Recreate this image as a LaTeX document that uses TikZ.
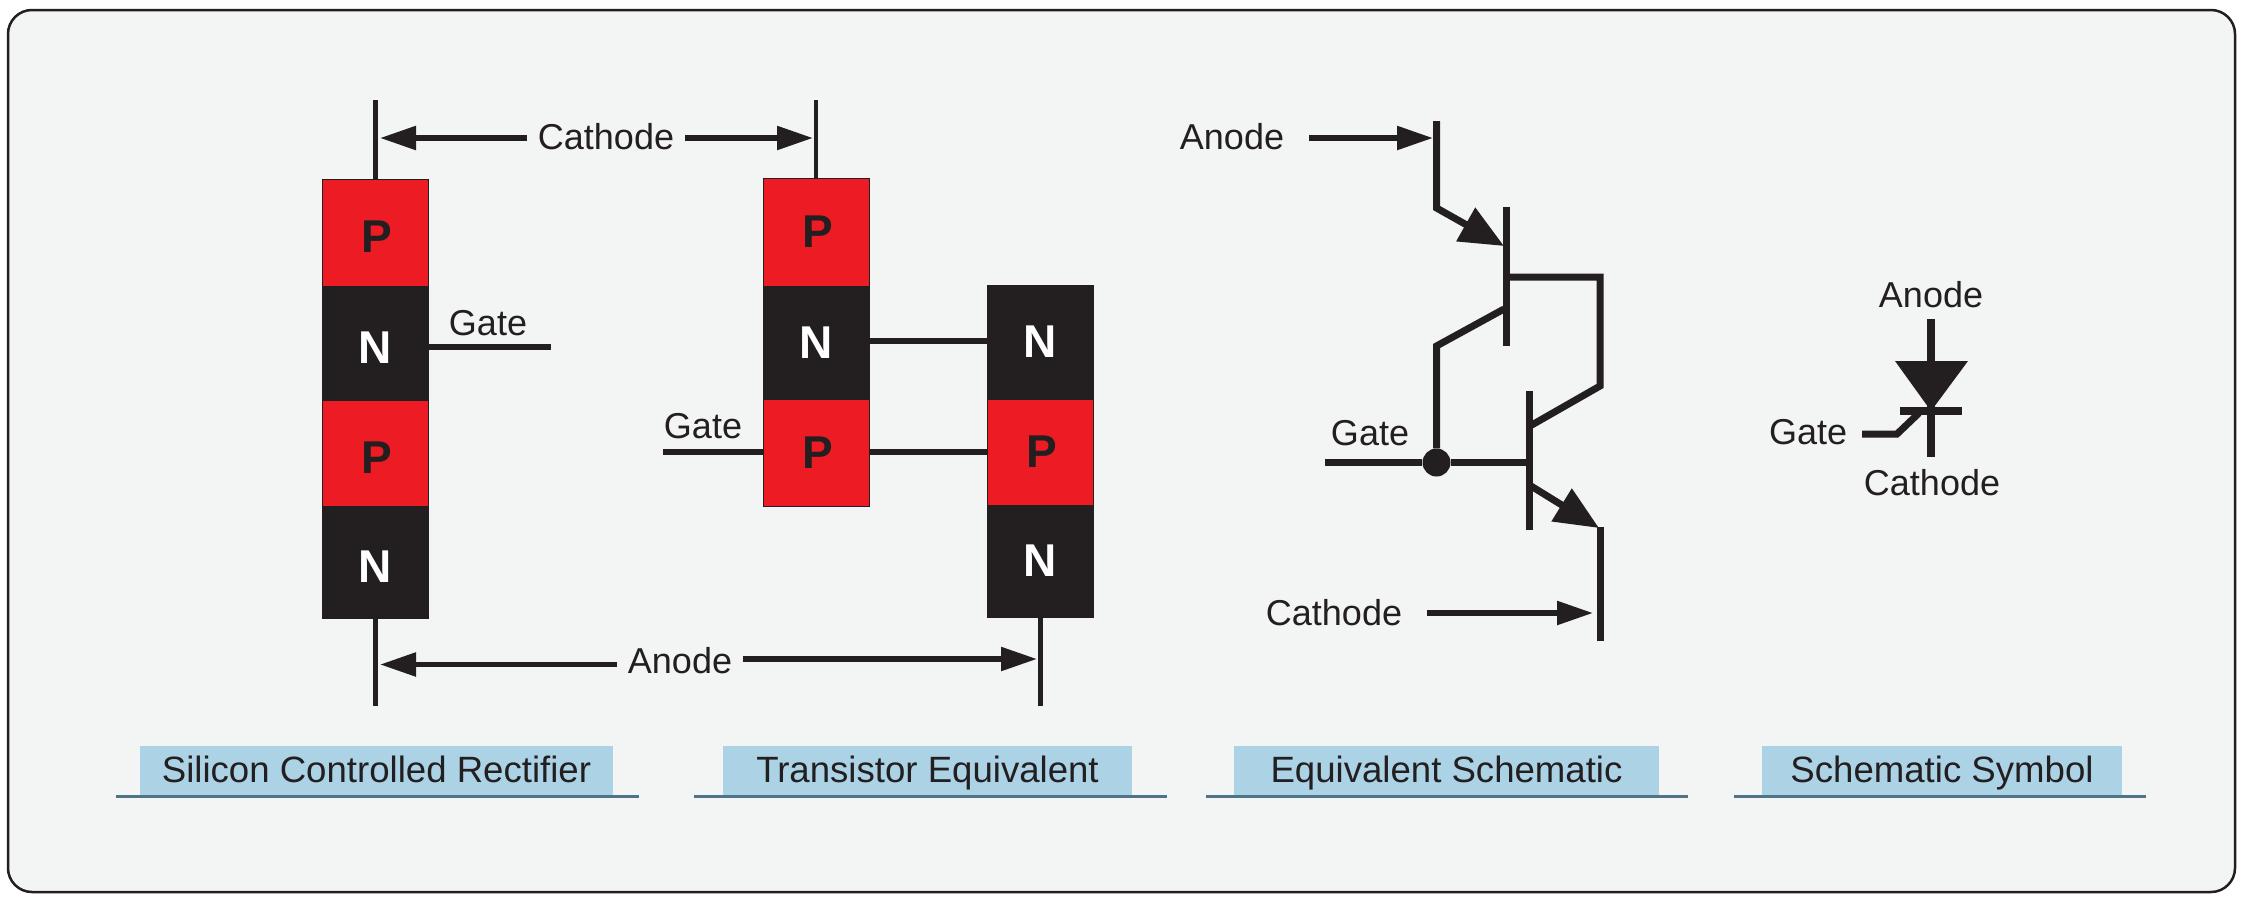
\documentclass[tikz,border=0pt]{standalone}
\usepackage{fontspec}
\setmainfont{Liberation Sans}
\usetikzlibrary{arrows.meta}
\definecolor{ink}{HTML}{231F20}
\definecolor{blockred}{HTML}{ED1C24}
\definecolor{panelbg}{HTML}{F3F5F4}
\definecolor{capblue}{HTML}{ACD2E5}
\definecolor{capline}{HTML}{4F7488}
\tikzset{
	lab/.style={text=ink, inner sep=0pt, font=\fontsize{36}{40}\selectfont},
	arrlab/.style={lab, inner xsep=11pt},
	farlab/.style={lab, inner xsep=25pt},
	block/.style={rectangle, draw=ink, line width=1pt, inner sep=0pt, minimum width=106pt, font=\fontsize{46}{50}\selectfont\bfseries},
	pblock/.style={block, fill=blockred, text=ink, execute at begin node=\hspace*{3pt}},
	nblock/.style={block, fill=ink, text=white},
	lowtext/.style={text height=40pt},
	lead/.style={ink, line width=4.5pt},
	wire/.style={ink, line width=5.5pt},
	sch/.style={ink, line width=7pt, line join=miter},
	ptr/.style={wire, -{Triangle[length=36pt,width=23pt]}},
	emit/.style={sch, -{Triangle[length=44pt,width=37pt]}},
	captext/.style={text=ink, fill=capblue, inner ysep=0pt, text height=26pt, text depth=1pt, minimum height=49pt, anchor=south, font=\fontsize{36.6}{40}\selectfont},
	capbar/.style={capline, line width=3pt},
}
\begin{document}
\begin{tikzpicture}[x=1pt, y=-1pt]
	\useasboundingbox (0,0) rectangle (2245,905);
	\draw[ink, fill=panelbg, line width=2.5pt, rounded corners=24pt] (8,10) rectangle (2235,892);

	% rectifier stack
	\node[pblock, lowtext, minimum height=107pt] (ra) at (375.5,232.5) {P};
	\node[nblock, lowtext, minimum height=114pt] (rb) at (375.5,343) {N};
	\node[pblock, lowtext, minimum height=106pt] (rc) at (375.5,453) {P};
	\node[nblock, lowtext, minimum height=112pt] (rd) at (375.5,562) {N};

	% transistor equivalent
	\node[pblock, minimum height=108pt] (ta) at (816,232) {P};
	\node[nblock, minimum height=114pt] (tb) at (816,343) {N};
	\node[pblock, minimum height=107pt] (tc) at (816,453) {P};
	\node[nblock, minimum height=114pt] (ua) at (1040.5,342) {N};
	\node[pblock, minimum height=106pt] (ub) at (1040.5,452) {P};
	\node[nblock, minimum height=112pt] (uc) at (1040.5,561) {N};

	\coordinate (rtop) at (375.5,100);
	\coordinate (rbot) at (375.5,706);
	\coordinate (ttop) at (816,100);
	\coordinate (ubot) at (1040.5,706);
	\draw[lead] (rtop) -- (ra.north);
	\draw[lead] (rd.south) -- (rbot);
	\draw[lead] (ttop) -- (ta.north);
	\draw[lead] (uc.south) -- (ubot);

	\coordinate (rgate) at (551,347);
	\coordinate (tgate) at (663,452);
	\draw[wire] (rb.east |- rgate) -- (rgate);
	\draw[wire] (tgate) -- (tc.west |- tgate);
	\draw[wire] (tb.east |- 0,341) -- (ua.west |- 0,341);
	\draw[wire] (tc.east |- tgate) -- (ub.west |- tgate);
	\node[lab] (rgatelab) at (488,323) {Gate};
	\node[lab] (tgatelab) at (703,426) {Gate};

	\node[arrlab] (cathlab) at (606,137) {Cathode};
	\coordinate (cathl) at (380,138);
	\coordinate (cathr) at (813,138);
	\draw[ptr] (cathlab.west |- cathl) -- (cathl);
	\draw[ptr] (cathlab.east |- cathr) -- (cathr);

	\node[arrlab] (anlab) at (680,661) {Anode};
	\coordinate (anl) at (380,664.5);
	\coordinate (anr) at (1037,659);
	\draw[ptr] (anlab.west |- anl) -- (anl);
	\draw[ptr] (anlab.east |- anr) -- (anr);

	% equivalent schematic
	\node[farlab] (schan) at (1232,137) {Anode};
	\node[farlab] (schcath) at (1334,613) {Cathode};
	\node[lab] (schgate) at (1370,433) {Gate};
	\coordinate (antip) at (1433,138);
	\coordinate (cathtip) at (1593,613);
	\draw[ptr] (schan.east |- antip) -- (antip);
	\draw[ptr] (schcath.east |- cathtip) -- (cathtip);

	\coordinate (qa) at (1506,207);
	\coordinate (qb) at (1506,346);
	\coordinate (qc) at (1529,391);
	\coordinate (qd) at (1529,530);
	\node[circle, fill=ink, inner sep=0pt, minimum size=28pt] (gdot) at (1436.5,462.5) {};
	\coordinate (ingate) at (1325,462.5);

	\draw[sch] (qa) -- (qb);
	\draw[sch] (qc) -- (qd);
	\draw[sch] (ingate) -- (gdot) -- (qc |- gdot);
	\draw[emit] (1436.5,121) -- (1436.5,208) -- (1504,246);
	\draw[sch] (gdot) -- (1436.5,346) -- (1504,309);
	\draw[sch] (qa |- 0,277) -- (1600,277) -- (1600,386) -- (1530,426);
	\draw[emit] (1531,486) -- (1599,528);
	\draw[sch] (1600,527) -- (1600,641);

	% schematic symbol
	\node[lab] (symtop) at (1931,295) {Anode};
	\node[lab] (symbot) at (1932,483) {Cathode};
	\node[lab] (symgate) at (1808,432) {Gate};
	\draw[sch, line width=8pt] (1931,319) -- (1931,457);
	\fill[ink] (1895,361) -- (1968,361) -- (1931,411) -- cycle;
	\draw[sch, line width=8pt] (1900,411) -- (1962,411);
	\draw[sch] (1862,434) -- (1897,434) -- (1919,413);

	% captions
	\node[captext, minimum width=473pt] (capa) at (376.5,795) {Silicon Controlled Rectifier};
	\node[captext, minimum width=409pt] (capb) at (927.5,795) {Transistor Equivalent};
	\node[captext, minimum width=425pt] (capc) at (1446.5,795) {Equivalent Schematic};
	\node[captext, minimum width=360pt] (capd) at (1942,795) {Schematic Symbol};
	\draw[capbar] (116,796.5) -- (639,796.5);
	\draw[capbar] (694,796.5) -- (1167,796.5);
	\draw[capbar] (1206,796.5) -- (1688,796.5);
	\draw[capbar] (1734,796.5) -- (2146,796.5);
\end{tikzpicture}
\end{document}
